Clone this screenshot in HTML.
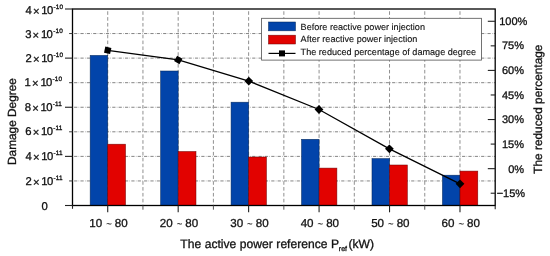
<!DOCTYPE html>
<html><head><meta charset="utf-8"><title>Damage degree chart</title>
<style>html,body{margin:0;padding:0;background:#fff;}svg{display:block;}text{font-family:"Liberation Sans",Arial,sans-serif;fill:#111;text-rendering:geometricPrecision;stroke:#111;stroke-width:0.3px;}.lg text{stroke-width:0.12px;}</style>
</head><body>
<svg width="550" height="256" viewBox="0 0 550 256">
<rect x="0" y="0" width="550" height="256" fill="#ffffff"/>
<g stroke="#848484" stroke-width="1" fill="none" stroke-dasharray="3.2 1.35 0.5 1.31">
<line x1="74.10" y1="33.56" x2="495.20" y2="33.56"/>
<line x1="74.10" y1="58.12" x2="495.20" y2="58.12"/>
<line x1="74.10" y1="82.69" x2="495.20" y2="82.69"/>
<line x1="74.10" y1="107.25" x2="495.20" y2="107.25"/>
<line x1="74.10" y1="131.81" x2="495.20" y2="131.81"/>
<line x1="74.10" y1="156.38" x2="495.20" y2="156.38"/>
<line x1="74.10" y1="180.94" x2="495.20" y2="180.94"/>
</g>
<g stroke="#8a8a8a" stroke-width="0.95" fill="none" stroke-dasharray="3.6 2.26">
<line x1="107.72" y1="11.25" x2="107.72" y2="205.50"/>
<line x1="142.95" y1="11.25" x2="142.95" y2="205.50"/>
<line x1="178.18" y1="11.25" x2="178.18" y2="205.50"/>
<line x1="213.40" y1="11.25" x2="213.40" y2="205.50"/>
<line x1="248.62" y1="11.25" x2="248.62" y2="205.50"/>
<line x1="283.85" y1="11.25" x2="283.85" y2="205.50"/>
<line x1="319.08" y1="11.25" x2="319.08" y2="205.50"/>
<line x1="354.30" y1="11.25" x2="354.30" y2="205.50"/>
<line x1="389.53" y1="11.25" x2="389.53" y2="205.50"/>
<line x1="424.75" y1="11.25" x2="424.75" y2="205.50"/>
<line x1="459.98" y1="11.25" x2="459.98" y2="205.50"/>
</g>
<rect x="90.17" y="55.40" width="17.55" height="150.10" fill="#0244aa" stroke="#012456" stroke-width="0.6" stroke-opacity="0.85"/>
<rect x="107.72" y="144.20" width="17.80" height="61.30" fill="#e20200" stroke="#6a0000" stroke-width="0.6" stroke-opacity="0.85"/>
<rect x="160.62" y="71.00" width="17.55" height="134.50" fill="#0244aa" stroke="#012456" stroke-width="0.6" stroke-opacity="0.85"/>
<rect x="178.18" y="151.50" width="17.80" height="54.00" fill="#e20200" stroke="#6a0000" stroke-width="0.6" stroke-opacity="0.85"/>
<rect x="231.07" y="102.20" width="17.55" height="103.30" fill="#0244aa" stroke="#012456" stroke-width="0.6" stroke-opacity="0.85"/>
<rect x="248.62" y="157.00" width="17.80" height="48.50" fill="#e20200" stroke="#6a0000" stroke-width="0.6" stroke-opacity="0.85"/>
<rect x="301.53" y="139.30" width="17.55" height="66.20" fill="#0244aa" stroke="#012456" stroke-width="0.6" stroke-opacity="0.85"/>
<rect x="319.08" y="168.10" width="17.80" height="37.40" fill="#e20200" stroke="#6a0000" stroke-width="0.6" stroke-opacity="0.85"/>
<rect x="371.98" y="158.60" width="17.55" height="46.90" fill="#0244aa" stroke="#012456" stroke-width="0.6" stroke-opacity="0.85"/>
<rect x="389.53" y="165.00" width="17.80" height="40.50" fill="#e20200" stroke="#6a0000" stroke-width="0.6" stroke-opacity="0.85"/>
<rect x="442.43" y="175.20" width="17.55" height="30.30" fill="#0244aa" stroke="#012456" stroke-width="0.6" stroke-opacity="0.85"/>
<rect x="459.98" y="171.10" width="17.80" height="34.40" fill="#e20200" stroke="#6a0000" stroke-width="0.6" stroke-opacity="0.85"/>
<polyline fill="none" stroke="#000" stroke-width="1.3" points="107.7,50.3 178.3,59.9 248.8,81.1 319.0,109.5 389.4,148.8 460.0,183.8"/>
<rect x="104.60" y="47.20" width="6.2" height="6.2" fill="#000" transform="rotate(12 107.7 50.3)"/>
<rect x="175.20" y="56.80" width="6.2" height="6.2" fill="#000" transform="rotate(30 178.3 59.9)"/>
<rect x="245.70" y="78.00" width="6.2" height="6.2" fill="#000" transform="rotate(45 248.8 81.1)"/>
<rect x="315.90" y="106.40" width="6.2" height="6.2" fill="#000" transform="rotate(45 319.0 109.5)"/>
<rect x="386.30" y="145.70" width="6.2" height="6.2" fill="#000" transform="rotate(45 389.4 148.8)"/>
<rect x="456.90" y="180.70" width="6.2" height="6.2" fill="#000" transform="rotate(45 460.0 183.8)"/>
<rect x="72.5" y="9.0" width="422.7" height="196.5" fill="none" stroke="#000" stroke-width="1.3"/>
<g stroke="#222" stroke-width="1.1">
<line x1="65.0" y1="9.00" x2="72.5" y2="9.00"/>
<line x1="65.0" y1="58.12" x2="72.5" y2="58.12"/>
<line x1="65.0" y1="107.25" x2="72.5" y2="107.25"/>
<line x1="65.0" y1="156.38" x2="72.5" y2="156.38"/>
<line x1="65.0" y1="205.50" x2="72.5" y2="205.50"/>
<line x1="69.1" y1="33.56" x2="72.5" y2="33.56" stroke="#3a3a3a" stroke-width="1"/>
<line x1="69.1" y1="82.69" x2="72.5" y2="82.69" stroke="#3a3a3a" stroke-width="1"/>
<line x1="69.1" y1="131.81" x2="72.5" y2="131.81" stroke="#3a3a3a" stroke-width="1"/>
<line x1="69.1" y1="180.94" x2="72.5" y2="180.94" stroke="#3a3a3a" stroke-width="1"/>
<line x1="487.80" y1="21.28" x2="495.2" y2="21.28"/>
<line x1="490.70" y1="45.84" x2="495.2" y2="45.84"/>
<line x1="487.80" y1="70.41" x2="495.2" y2="70.41"/>
<line x1="490.70" y1="94.97" x2="495.2" y2="94.97"/>
<line x1="487.80" y1="119.53" x2="495.2" y2="119.53"/>
<line x1="490.70" y1="144.09" x2="495.2" y2="144.09"/>
<line x1="487.80" y1="168.66" x2="495.2" y2="168.66"/>
<line x1="490.70" y1="193.22" x2="495.2" y2="193.22"/>
<line x1="107.72" y1="205.5" x2="107.72" y2="212.3"/>
<line x1="178.18" y1="205.5" x2="178.18" y2="212.3"/>
<line x1="248.62" y1="205.5" x2="248.62" y2="212.3"/>
<line x1="319.08" y1="205.5" x2="319.08" y2="212.3"/>
<line x1="389.53" y1="205.5" x2="389.53" y2="212.3"/>
<line x1="459.98" y1="205.5" x2="459.98" y2="212.3"/>
<line x1="72.5" y1="205.5" x2="72.5" y2="208.8"/>
<line x1="142.95" y1="205.5" x2="142.95" y2="209.7" stroke="#555" stroke-width="1"/>
<line x1="213.40" y1="205.5" x2="213.40" y2="209.7" stroke="#555" stroke-width="1"/>
<line x1="283.85" y1="205.5" x2="283.85" y2="209.7" stroke="#555" stroke-width="1"/>
<line x1="354.30" y1="205.5" x2="354.30" y2="209.7" stroke="#555" stroke-width="1"/>
<line x1="424.75" y1="205.5" x2="424.75" y2="209.7" stroke="#555" stroke-width="1"/>
<line x1="495.2" y1="205.5" x2="495.2" y2="209.3"/>
</g>
<text font-size="11.3"><tspan x="25.5" y="14">4</tspan><tspan x="32.9" y="14.9">×</tspan><tspan x="41.3" y="14" letter-spacing="-0.7">10</tspan><tspan font-size="6.4" letter-spacing="0.15" x="53.5" y="9.0">-10</tspan></text>
<text font-size="11.3"><tspan x="25.2" y="38">3</tspan><tspan x="32.6" y="38.9">×</tspan><tspan x="41.0" y="38" letter-spacing="-0.7">10</tspan><tspan font-size="6.4" letter-spacing="0.15" x="53.2" y="33.0">-10</tspan></text>
<text font-size="11.3"><tspan x="25.5" y="62">2</tspan><tspan x="32.9" y="62.9">×</tspan><tspan x="41.3" y="62" letter-spacing="-0.7">10</tspan><tspan font-size="6.4" letter-spacing="0.15" x="53.5" y="57.0">-10</tspan></text>
<text font-size="11.3"><tspan x="24.6" y="86">1</tspan><tspan x="32.0" y="86.9">×</tspan><tspan x="40.4" y="86" letter-spacing="-0.7">10</tspan><tspan font-size="6.4" letter-spacing="0.15" x="52.6" y="81.0">-10</tspan></text>
<text font-size="11.3"><tspan x="24.8" y="111">8</tspan><tspan x="32.2" y="111.9">×</tspan><tspan x="40.6" y="111" letter-spacing="-0.7">10</tspan><tspan font-size="6.4" letter-spacing="0.15" x="52.8" y="106.0">-11</tspan></text>
<text font-size="11.3"><tspan x="25.3" y="135">6</tspan><tspan x="32.7" y="135.9">×</tspan><tspan x="41.1" y="135" letter-spacing="-0.7">10</tspan><tspan font-size="6.4" letter-spacing="0.15" x="53.3" y="130.0">-11</tspan></text>
<text font-size="11.3"><tspan x="25.5" y="160">4</tspan><tspan x="32.9" y="160.9">×</tspan><tspan x="41.3" y="160" letter-spacing="-0.7">10</tspan><tspan font-size="6.4" letter-spacing="0.15" x="53.5" y="155.0">-11</tspan></text>
<text font-size="11.3"><tspan x="25.5" y="185">2</tspan><tspan x="32.9" y="185.9">×</tspan><tspan x="41.3" y="185" letter-spacing="-0.7">10</tspan><tspan font-size="6.4" letter-spacing="0.15" x="53.5" y="180.0">-11</tspan></text>
<text x="44.6" y="209.8" font-size="11.3" text-anchor="middle">0</text>
<text x="527.3" y="24.60" font-size="11" text-anchor="end">100%</text>
<text x="524.0" y="49.26" font-size="11" text-anchor="end">75%</text>
<text x="524.0" y="73.92" font-size="11" text-anchor="end">60%</text>
<text x="524.0" y="98.58" font-size="11" text-anchor="end">45%</text>
<text x="524.0" y="123.24" font-size="11" text-anchor="end">30%</text>
<text x="524.0" y="147.90" font-size="11" text-anchor="end">15%</text>
<text x="524.1" y="172.56" font-size="11" text-anchor="end">0%</text>
<text x="525.1" y="197.22" font-size="11" text-anchor="end">−15%</text>
<text font-size="11.6"><tspan x="89.32" y="227.4">10</tspan><tspan x="106.22" y="227.2" font-size="9.5" style="stroke-width:0.1px">~</tspan><tspan x="114.82" y="227.4">80</tspan></text>
<text font-size="11.6"><tspan x="159.78" y="227.4">20</tspan><tspan x="176.68" y="227.2" font-size="9.5" style="stroke-width:0.1px">~</tspan><tspan x="185.28" y="227.4">80</tspan></text>
<text font-size="11.6"><tspan x="230.22" y="227.4">30</tspan><tspan x="247.12" y="227.2" font-size="9.5" style="stroke-width:0.1px">~</tspan><tspan x="255.72" y="227.4">80</tspan></text>
<text font-size="11.6"><tspan x="300.68" y="227.4">40</tspan><tspan x="317.58" y="227.2" font-size="9.5" style="stroke-width:0.1px">~</tspan><tspan x="326.18" y="227.4">80</tspan></text>
<text font-size="11.6"><tspan x="371.13" y="227.4">50</tspan><tspan x="388.03" y="227.2" font-size="9.5" style="stroke-width:0.1px">~</tspan><tspan x="396.63" y="227.4">80</tspan></text>
<text font-size="11.6"><tspan x="441.58" y="227.4">60</tspan><tspan x="458.48" y="227.2" font-size="9.5" style="stroke-width:0.1px">~</tspan><tspan x="467.08" y="227.4">80</tspan></text>
<text font-size="12.1"><tspan x="180.3" y="248.4" word-spacing="0.2">The active power reference P</tspan><tspan font-size="7" x="338.8" y="251">ref</tspan><tspan x="348.4" y="248.4">(kW)</tspan></text>
<text transform="translate(16 165) rotate(-90)" font-size="11.85">Damage Degree</text>
<text transform="translate(541.5 173.8) rotate(-90)" font-size="11.87">The reduced percentage</text>
<rect x="261.6" y="18.3" width="219.9" height="41.8" fill="#fff" stroke="#505050" stroke-width="0.8"/>
<rect x="268.5" y="22.0" width="27.0" height="8.8" fill="#0244aa" stroke="#012456" stroke-width="0.6" stroke-opacity="0.85"/>
<rect x="268.5" y="35.2" width="27.0" height="8.8" fill="#e20200" stroke="#6a0000" stroke-width="0.6" stroke-opacity="0.85"/>
<line x1="268.5" y1="53.4" x2="295.5" y2="53.4" stroke="#000" stroke-width="1.2"/>
<rect x="279.0" y="50.4" width="6" height="6" fill="#000"/>
<g font-size="9.1" class="lg">
<text x="300.6" y="30.0">Before reactive power injection</text>
<text x="300.6" y="42.3">After reactive power injection</text>
<text x="300.6" y="54.5">The reduced percentage of damage degree</text>
</g>
</svg>
</body></html>
